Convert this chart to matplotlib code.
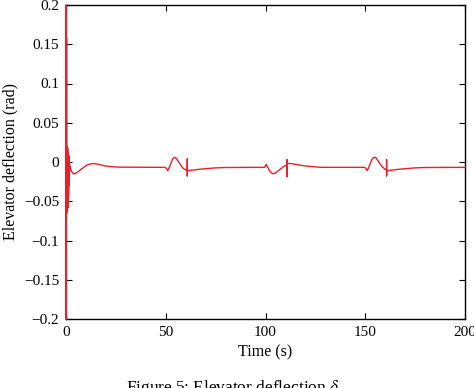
import matplotlib
matplotlib.use("Agg")
import matplotlib.pyplot as plt
import numpy as np

plt.rcParams['font.family'] = ['Liberation Serif', 'DejaVu Serif']
plt.rcParams['mathtext.fontset'] = 'stix'

# Elevator deflection time history
time_s = [0.0, 0.0, 0.05, 0.25, 0.4,
          0.55, 0.7, 0.85, 1.0, 1.15, 1.3, 1.45, 1.6, 1.8, 2.2, 2.8, 3.7, 4.8, 6.0, 7.5, 9.0, 10.5, 12.0,
          13.7, 15.5, 17.5, 20.0, 23.0, 27.0,
          49.5, 50.3, 51.0, 51.6, 52.5, 53.5, 54.5, 55.5, 56.5, 57.5, 58.7, 60.0, 60.8, 60.8, 60.8, 60.9,
          63.0, 66.0, 70.0, 75.0, 80.0,
          99.5, 100.0, 100.4, 101.0, 102.0, 103.0, 103.8, 105.0, 106.5, 108.0, 109.5, 110.7, 110.7, 110.7,
          110.8, 113.0, 116.0, 120.0, 124.0, 128.0,
          149.5, 150.3, 151.0, 151.6, 152.5, 153.5, 154.5, 155.3, 156.3, 157.3, 158.5, 159.8, 160.7, 160.7,
          160.7, 160.8, 163.0, 166.0, 170.0, 175.0, 180.0,
          200.0]
deflection_rad = [-0.2, 0.2, -0.2, 0.158, -0.065,
                  0.02, -0.062, 0.018, -0.058, 0.012, -0.045, 0.008, -0.03, -0.004, -0.008, -0.012, -0.015,
                  -0.0145, -0.0125, -0.0095, -0.0065, -0.004, -0.0025,
                  -0.002, -0.0025, -0.0038, -0.0052, -0.006, -0.0066,
                  -0.0068, -0.008, -0.011, -0.008, -0.002, 0.004, 0.006, 0.004, 0.0, -0.004, -0.008, -0.010,
                  -0.011, 0.004, -0.018, -0.011,
                  -0.0105, -0.0095, -0.0085, -0.0075, -0.007,
                  -0.0068, -0.005, -0.003, -0.006, -0.011, -0.014, -0.015, -0.014, -0.011, -0.008, -0.005,
                  -0.004, 0.003, -0.019, -0.002,
                  -0.002, -0.0035, -0.005, -0.006, -0.0068,
                  -0.0068, -0.008, -0.011, -0.008, -0.002, 0.004, 0.006, 0.0055, 0.002, -0.002, -0.006, -0.009,
                  -0.0105, 0.003, -0.018, -0.011,
                  -0.0105, -0.0095, -0.0085, -0.0075, -0.007,
                  -0.0068]

x_ticks = [0, 50, 100, 150, 200]
y_ticks = [-0.2, -0.15, -0.1, -0.05, 0, 0.05, 0.1, 0.15, 0.2]
y_tick_labels = ['\u22120.2', '\u22120.15', '\u22120.1', '\u22120.05', '0', '0.05', '0.1', '0.15', '0.2']

fig = plt.figure(figsize=(4.74, 3.88), dpi=100)
ax = fig.add_axes([66/474, 1 - 319/388, (465 - 66)/474, (319 - 5)/388])
ax.plot(time_s, deflection_rad, color='#e8202a', lw=1.0, zorder=3, clip_on=False)
ax.set_xlim(0, 200)
ax.set_ylim(-0.2, 0.2)
ax.set_xticks(x_ticks)
ax.set_yticks(y_ticks)
ax.set_yticklabels(y_tick_labels)
ax.tick_params(direction='in', length=4, width=0.8, top=True, right=True, labelsize=11, pad=5)
for s in ax.spines.values():
    s.set_linewidth(1.0)
ax.set_xlabel('Time (s)', fontsize=11.5, labelpad=4)
ax.set_ylabel('Elevator deflection (rad)', fontsize=11.5, labelpad=4)

fig.text(0.5, (388 - 378) / 388, r'Figure 5: Elevator deflection $\delta_e$.', ha='center', va='top', fontsize=12.5)

fig.savefig('out.png', dpi=100)
